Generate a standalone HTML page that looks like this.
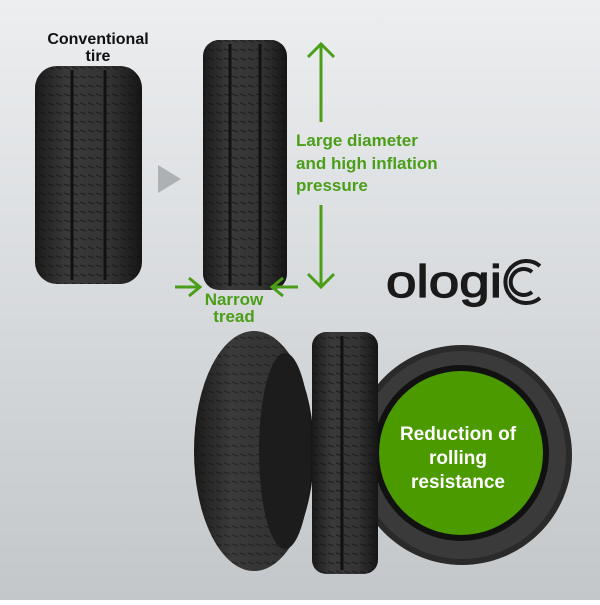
<!DOCTYPE html>
<html><head><style>
body{margin:0;width:600px;height:600px;overflow:hidden;font-family:"Liberation Sans",Arial,sans-serif}
</style></head><body>
<svg width="600" height="600" xmlns="http://www.w3.org/2000/svg">
<defs>
<linearGradient id="bg" x1="0" y1="0" x2="0" y2="1"><stop offset="0" stop-color="#eceef0"/><stop offset="1" stop-color="#c3c7ca"/></linearGradient>
<linearGradient id="tr" x1="0" y1="0" x2="1" y2="0"><stop offset="0" stop-color="#1a1a1a"/><stop offset="0.3" stop-color="#3a3a3a"/><stop offset="0.7" stop-color="#333"/><stop offset="1" stop-color="#151515"/></linearGradient>
<pattern id="grv" width="8" height="9" patternUnits="userSpaceOnUse"><rect width="8" height="9" fill="none"/><line x1="0" y1="4" x2="6" y2="6" stroke="#111" stroke-width="1.2"/></pattern>
</defs>
<rect width="600" height="600" fill="url(#bg)"/>
<text x="98" y="44" font-size="16" font-weight="bold" text-anchor="middle" fill="#111">Conventional</text>
<text x="98" y="61" font-size="16" font-weight="bold" text-anchor="middle" fill="#111">tire</text>
<rect x="35" y="66" width="107" height="218" rx="22" fill="url(#tr)"/>
<rect x="35" y="66" width="107" height="218" rx="22" fill="url(#grv)" opacity="0.6"/>
<line x1="72" y1="70" x2="72" y2="280" stroke="#111" stroke-width="3"/>
<line x1="105" y1="70" x2="105" y2="280" stroke="#111" stroke-width="3"/>
<polygon points="158,165 181,179 158,193" fill="#aeb1b4"/>
<rect x="203" y="40" width="84" height="250" rx="16" fill="url(#tr)"/>
<rect x="203" y="40" width="84" height="250" rx="16" fill="url(#grv)" opacity="0.6"/>
<line x1="230" y1="44" x2="230" y2="286" stroke="#111" stroke-width="3"/>
<line x1="260" y1="44" x2="260" y2="286" stroke="#111" stroke-width="3"/>
<g stroke="#4a9e18" stroke-width="3" fill="none">
<line x1="321" y1="44" x2="321" y2="122"/><polyline points="308,57 321,44 334,57"/>
<line x1="321" y1="205" x2="321" y2="287"/><polyline points="308,274 321,287 334,274"/>
<line x1="175" y1="287" x2="200" y2="287"/><polyline points="189,278 200,287 189,296"/>
<line x1="298" y1="287" x2="272" y2="287"/><polyline points="283,278 272,287 283,296"/>
</g>
<g font-size="17" font-weight="bold" fill="#4a9e18">
<text x="296" y="146">Large diameter</text>
<text x="296" y="169">and high inflation</text>
<text x="296" y="191">pressure</text>
<text x="234" y="305" text-anchor="middle">Narrow</text>
<text x="234" y="322" text-anchor="middle">tread</text>
</g>
<text x="386" y="297" font-size="45" fill="#1a1a1a" stroke="#1a1a1a" stroke-width="1.2" textLength="116" lengthAdjust="spacingAndGlyphs">ologi</text>
<g fill="none" stroke="#1a1a1a" stroke-width="4">
<path d="M532 272 A13 13 0 1 0 532 292"/>
<path d="M540 266 A21 21 0 1 0 540 298"/>
</g>
<circle cx="462" cy="455" r="110" fill="#2a2a2a"/>
<circle cx="462" cy="455" r="104" fill="#3a3a3a"/>
<circle cx="461" cy="453" r="88" fill="#111"/>
<circle cx="461" cy="453" r="82" fill="#4a9a00"/>
<ellipse cx="254" cy="451" rx="60" ry="120" fill="url(#tr)"/>
<ellipse cx="254" cy="451" rx="60" ry="120" fill="url(#grv)" opacity="0.5"/>
<ellipse cx="285" cy="451" rx="26" ry="98" fill="#1c1c1c"/>
<rect x="312" y="332" width="66" height="242" rx="14" fill="url(#tr)"/>
<rect x="312" y="332" width="66" height="242" rx="14" fill="url(#grv)" opacity="0.6"/>
<line x1="342" y1="336" x2="342" y2="570" stroke="#111" stroke-width="3"/>
<g font-size="19" font-weight="bold" fill="#fff" text-anchor="middle">
<text x="458" y="440">Reduction of</text>
<text x="458" y="464">rolling</text>
<text x="458" y="488">resistance</text>
</g>
</svg>
</body></html>
